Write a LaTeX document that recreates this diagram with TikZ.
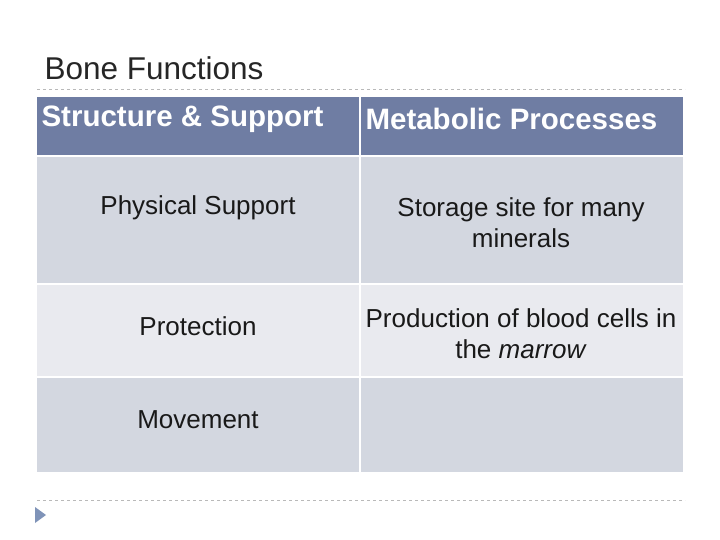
\documentclass[tikz,border=0pt]{standalone}
\usepackage{fontspec}
\setmainfont{Liberation Sans}
\begin{document}
\begin{tikzpicture}[x=1pt,y=-1pt,
  hdr/.style={fill=hdrc,draw=white,line width=2pt},
  dk/.style={fill=rowd,draw=white,line width=2pt},
  lt/.style={fill=rowl,draw=white,line width=2pt},
  body/.style={font=\fontsize{26}{31}\selectfont,text=black!90,align=center,anchor=center},
  htxt/.style={font=\fontsize{29.5}{32}\selectfont\bfseries,text=white,anchor=west},
  sep/.style={draw=gray!55,dashed,line width=0.8pt}]
\definecolor{hdrc}{HTML}{6F7DA3}
\definecolor{rowd}{HTML}{D3D7E0}
\definecolor{rowl}{HTML}{E9EAEF}
\definecolor{tri}{HTML}{7F93B8}
\useasboundingbox (0,0) rectangle (720,540);
\fill[white] (0,0) rectangle (720,540);
\node[anchor=west,font=\fontsize{31.5}{34}\selectfont,text=black!85] (title) at (41,68) {Bone Functions};
\coordinate (s1a) at (37,89); \coordinate (s1b) at (685,89);
\draw[sep] (s1a) -- (s1b);
\coordinate (s2a) at (37,500); \coordinate (s2b) at (685,500);
\draw[sep] (s2a) -- (s2b);
\fill[tri] (35,507) -- (46,515) -- (35,523) -- cycle;
% cells
\path[hdr] (36,96) rectangle (360,156);
\path[hdr] (360,96) rectangle (684,156);
\path[dk] (36,156) rectangle (360,284);
\path[dk] (360,156) rectangle (684,284);
\path[lt] (36,284) rectangle (360,377);
\path[lt] (360,284) rectangle (684,377);
\path[dk] (36,377) rectangle (360,473);
\path[dk] (360,377) rectangle (684,473);
\node[htxt] (h1) at (38,119) {Structure \& Support};
\node[htxt] (h2) at (362,119) {Metabolic Processes};
\node[body] (a1) at (198,208) {Physical Support};
\node[body] (b1) at (521,223) {Storage site for many\\minerals};
\node[body] (a2) at (198,326) {Protection};
\node[body] (b2) at (521,334) {Production of blood cells in\\the \textit{marrow}};
\node[body] (a3) at (198,420) {Movement};
\end{tikzpicture}
\end{document}
